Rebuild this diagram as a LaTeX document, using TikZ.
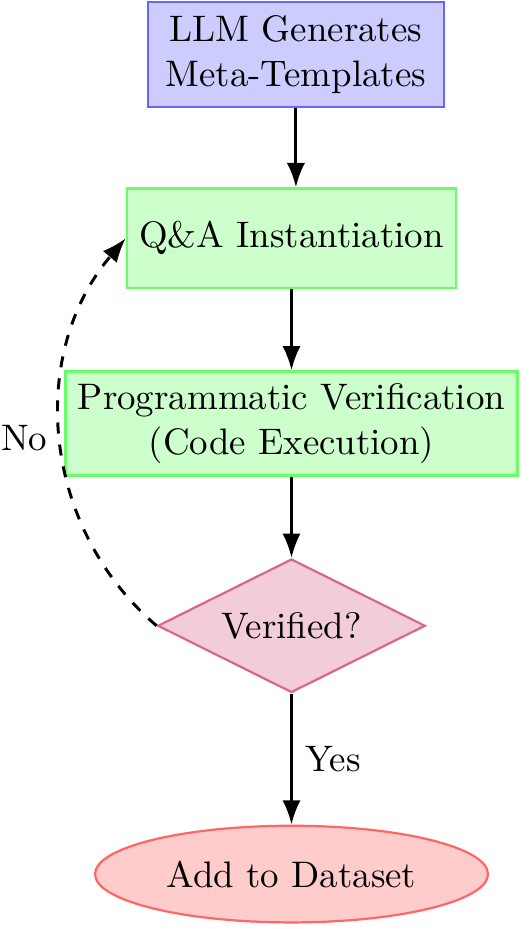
\documentclass[tikz,border=0pt]{standalone}
\usepackage{tikz}
\usetikzlibrary{positioning,shapes.geometric,arrows.meta}
\tikzset{
	stepbox/.style={rectangle,draw=green!60,fill=green!20,semithick,align=center},
	startbox/.style={rectangle,draw=blue!60,fill=blue!20,semithick,align=center,minimum height=28.3pt,minimum width=80.2pt},
	checkbox/.style={diamond,draw=purple!60,fill=purple!20,semithick,aspect=2,inner sep=0pt,minimum width=72.5pt,minimum height=36.2pt},
	endbox/.style={ellipse,draw=red!60,fill=red!20,semithick,minimum width=106.5pt,minimum height=26.2pt},
	flow/.style={-{Latex},thick}
}
\begin{document}
\begin{tikzpicture}
	\useasboundingbox (-79pt,14.77pt) rectangle (64.9pt,-237pt);
	\node[startbox] (gen) at (1.2pt,0) {LLM Generates\\Meta-Templates};
	\node[stepbox,minimum height=27pt] (inst) at (0,-49.8pt) {Q\&A Instantiation};
	\node[stepbox,below=22pt of inst] (verif) {Programmatic Verification\\(Code Execution)};
	\node[checkbox,below=22pt of verif] (check) {Verified?};
	\node[endbox,below=35.5pt of check] (data) {Add to Dataset};
	\draw[flow] (gen.south) -- (gen.south |- inst.north);
	\draw[flow] (inst) -- (verif);
	\draw[flow] (verif) -- (check);
	\draw[flow] (check) -- node[right] {Yes} (data);
	\draw[flow,dashed] (check.west) to[bend left=45] node[left] {No} (inst.west);
\end{tikzpicture}
\end{document}
